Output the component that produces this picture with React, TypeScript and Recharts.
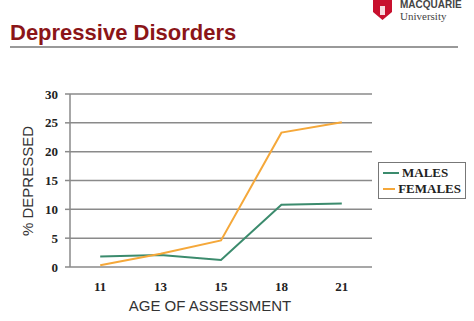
import { LineChart, Line, XAxis, YAxis, CartesianGrid, ReferenceLine } from 'recharts'

const ages = ['11', '13', '15', '18', '21']
const males = [1.8, 2.1, 1.2, 10.8, 11.0]
const females = [0.3, 2.3, 4.6, 23.3, 25.1]
const yTicks = [0, 5, 10, 15, 20, 25, 30]
const bandEdges = [0, 1, 2, 3, 4, 5]

const data = ages.map((age, i) => ({ age, males: males[i], females: females[i] }))

const MALE_COLOR = '#3b8b6d'
const FEMALE_COLOR = '#f5a83a'
const GRID = '#8a8a8a'

const series = [
  { key: 'males', name: 'MALES', color: MALE_COLOR },
  { key: 'females', name: 'FEMALES', color: FEMALE_COLOR },
]

const tickFont = { fontFamily: '"Liberation Serif", serif', fontWeight: 700, fontSize: 13, fill: '#222' }

export default function App() {
  return (
    <div style={{ position: 'absolute', left: 0, top: 0, width: 474, height: 321, background: '#fff', overflow: 'hidden' }}>
      {/* logo */}
      <svg style={{ position: 'absolute', left: 372, top: 0 }} width={21} height={21}>
        <path d="M1 0 H20 V12 L10.5 20 L1 12 Z" fill="#c8102e" />
        <rect x={8} y={6} width={5} height={9} fill="#fff" opacity={0.85} />
      </svg>
      <div style={{ position: 'absolute', left: 400, top: 0, fontFamily: '"Liberation Sans", Arial, sans-serif', fontWeight: 700, fontSize: 10, color: '#444', lineHeight: '10px' }}>MACQUARIE</div>
      <div style={{ position: 'absolute', left: 400, top: 11, fontFamily: '"Liberation Serif", serif', fontSize: 11, color: '#444', lineHeight: '11px' }}>University</div>

      <div style={{ position: 'absolute', left: 10, top: 20, fontFamily: '"Liberation Sans", Arial, sans-serif', fontWeight: 700, fontSize: 22, color: '#8b1518', lineHeight: '26px' }}>
        Depressive Disorders
      </div>
      <div style={{ position: 'absolute', left: 10, top: 46, width: 448, height: 2, background: '#999' }} />

      <div style={{ position: 'absolute', left: 27, top: 181, transform: 'translate(-50%, -50%) rotate(-90deg)', whiteSpace: 'nowrap', fontFamily: '"Liberation Sans", Arial, sans-serif', fontSize: 15, color: '#333' }}>
        % DEPRESSED
      </div>
      <div style={{ position: 'absolute', left: 210, top: 305, transform: 'translate(-50%, -50%)', whiteSpace: 'nowrap', fontFamily: '"Liberation Sans", Arial, sans-serif', fontSize: 15, color: '#333' }}>
        AGE OF ASSESSMENT
      </div>

      <div style={{ position: 'absolute', left: 0, top: 0 }}>
        <LineChart width={474} height={321} data={data} margin={{ top: 94, right: 102, bottom: 24, left: 0 }}>
          <CartesianGrid vertical={false} stroke={GRID} strokeWidth={1.5} />
          <XAxis
            xAxisId="edges"
            type="number"
            domain={[0, 5]}
            ticks={bandEdges}
            tick={false}
            height={0}
            tickSize={5}
            stroke={GRID}
            strokeWidth={1.5}
          />
          <XAxis
            xAxisId="cat"
            dataKey="age"
            scale="band"
            axisLine={false}
            tickLine={false}
            height={30}
            tickMargin={9}
            tick={tickFont}
          />
          <YAxis
            domain={[0, 30]}
            ticks={yTicks}
            width={70}
            tickSize={5}
            tickMargin={7}
            stroke={GRID}
            strokeWidth={1.5}
            tick={tickFont}
          />
          <ReferenceLine xAxisId="edges" x={5} stroke={GRID} strokeWidth={1.5} />
          {series.map(s => (
            <Line key={s.key} xAxisId="cat" type="linear" dataKey={s.key} name={s.name} stroke={s.color} strokeWidth={2} dot={false} isAnimationActive={false} />
          ))}
        </LineChart>
      </div>

      {/* legend */}
      <div style={{ position: 'absolute', left: 378, top: 162, width: 78, border: '1px solid #777', background: '#fff', padding: '2px 4px 1px 4px' }}>
        {series.map(s => (
          <div key={s.key} style={{ display: 'flex', alignItems: 'center', height: 16 }}>
            <span style={{ display: 'inline-block', width: 16, height: 2, background: s.color, marginRight: 3 }} />
            <span style={{ fontFamily: '"Liberation Serif", serif', fontWeight: 700, fontSize: 13, color: '#222' }}>{s.name}</span>
          </div>
        ))}
      </div>
    </div>
  )
}
